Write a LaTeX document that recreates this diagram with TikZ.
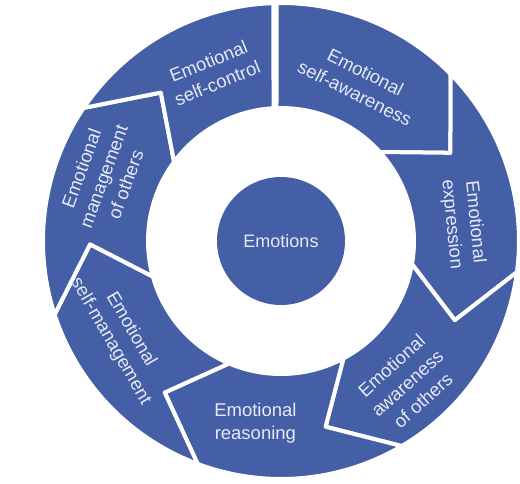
\documentclass[tikz,border=0pt]{standalone}
\usepackage{fontspec}
\setmainfont{Liberation Sans}
\usepackage{tikz}
\definecolor{segblue}{RGB}{69,95,166}
\definecolor{labtext}{RGB}{228,233,245}
\tikzset{
  seg/.style={fill=segblue, draw=white, line width=4pt, line join=round},
  lab/.style={text=labtext, align=center, inner sep=0pt, font=\fontsize{18.5}{23.5}\selectfont},
}

\begin{document}
\begin{tikzpicture}[x=1pt, y=1pt]
      \useasboundingbox (-281, -242) rectangle (239, 241);
      % ring segments, clockwise from the top
      \draw[seg] (91.08:238) arc[start angle=91.08, end angle=44.5, radius=238] -- (27.5:191) -- (42:133) arc[start angle=42, end angle=91.94, radius=133] -- cycle;
      \draw[seg] (44.5:238) arc[start angle=44.5, end angle=-7.5, radius=238] -- (-24.5:191) -- (-10:133) arc[start angle=-10, end angle=42, radius=133] -- (27.5:191) -- cycle;
      \draw[seg] (-7.5:238) arc[start angle=-7.5, end angle=-59.5, radius=238] -- (-76.5:191) -- (-62:133) arc[start angle=-62, end angle=-10, radius=133] -- (-24.5:191) -- cycle;
      \draw[seg] (-59.5:238) arc[start angle=-59.5, end angle=-110.5, radius=238] -- (-127.5:191) -- (-113:133) arc[start angle=-113, end angle=-62, radius=133] -- (-76.5:191) -- cycle;
      \draw[seg] (-110.5:238) arc[start angle=-110.5, end angle=-162, radius=238] -- (-179:191) -- (-164.5:133) arc[start angle=-164.5, end angle=-113, radius=133] -- (-127.5:191) -- cycle;
      \draw[seg] (-162:238) arc[start angle=-162, end angle=-214, radius=238] -- (-231:191) -- (-216.5:133) arc[start angle=-216.5, end angle=-164.5, radius=133] -- (-179:191) -- cycle;
      \draw[seg] (146:238) arc[start angle=146, end angle=91.81, radius=238] -- (93.23:133) arc[start angle=93.23, end angle=143.5, radius=133] -- (129:191) -- cycle;
      % centre
      \node[circle, fill=segblue, minimum size=128pt, lab, font=\fontsize{18}{21}\selectfont] (emo) at (0, 0) {Emotions};
      % labels
      \node[lab, rotate=22] (selfctrl) at (112:182) {Emotional\\self-control};
      \node[lab, rotate=-26.6] (selfaware) at (63.4:177) {Emotional\\self-awareness};
      \node[lab, rotate=-84.4] (express) at (5.6:183) {Emotional\\expression};
      \node[lab, rotate=42] (awareoth) at (-48.4:190) {Emotional\\awareness\\of others};
      \node[lab] (reason) at (-98:184) {Emotional\\reasoning};
      \node[lab, rotate=-60] (selfmgmt) at (-149.5:186) {Emotional\\self-management};
      \node[lab, rotate=70] (mgmtoth) at (160:189) {Emotional\\management\\of others};
\end{tikzpicture}
\end{document}
